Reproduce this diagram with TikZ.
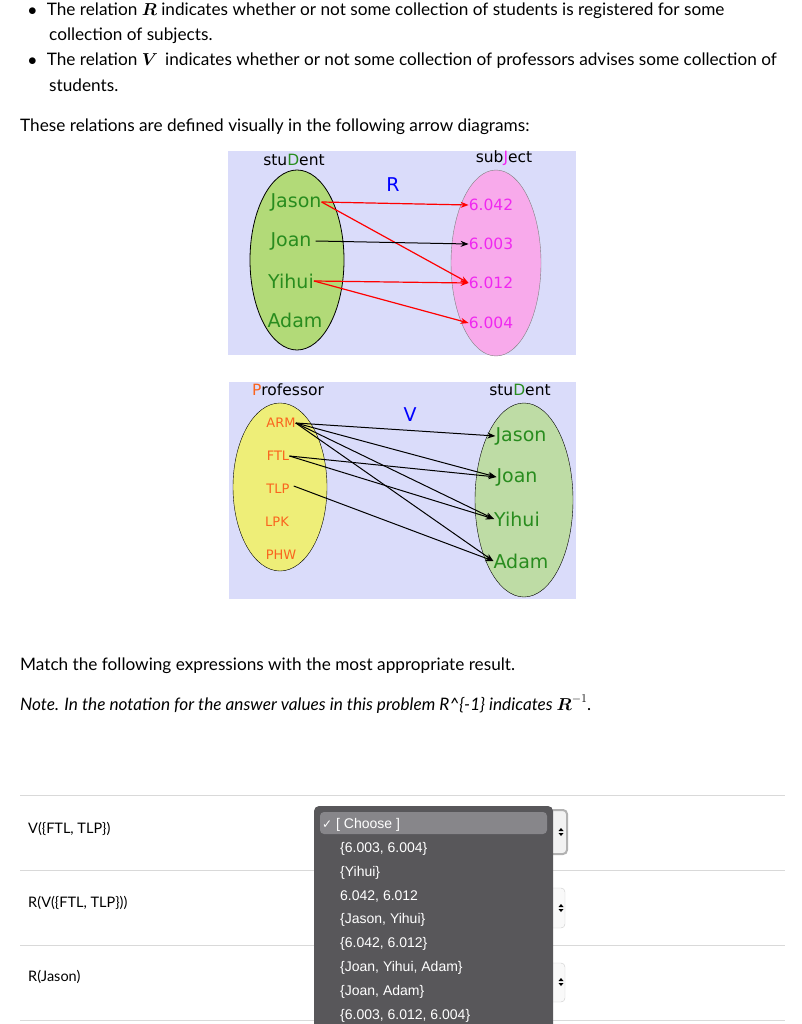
\documentclass[tikz,border=0pt]{standalone}
\usepackage{amsmath}
\usepackage{fontspec}
\setmainfont{Lato}
\newfontfamily\comicfont{DejaVu Sans}
\newfontfamily\helv{Liberation Sans}
\newfontfamily\sym{DejaVu Sans}
\usetikzlibrary{arrows.meta}
\definecolor{bgblue}{RGB}{218,220,250}
\definecolor{sgreen}{RGB}{178,218,120}
\definecolor{lgreen}{RGB}{190,220,165}
\definecolor{spink}{RGB}{248,170,235}
\definecolor{syellow}{RGB}{238,238,120}
\definecolor{tgreen}{RGB}{40,140,30}
\definecolor{tmag}{RGB}{240,40,240}
\definecolor{torange}{RGB}{250,100,30}
\definecolor{menu}{RGB}{88,87,90}
\definecolor{menuhi}{RGB}{135,134,138}
\tikzset{
  body/.style={anchor=base west,inner sep=0pt,font=\fontsize{17.2}{20}\selectfont},
  dlabel/.style={inner sep=0pt,font={\fontsize{19}{22}\selectfont\comicfont}},
  slabel/.style={inner sep=0pt,font={\fontsize{15.5}{18}\selectfont\comicfont}},
  plabel/.style={inner sep=0pt,text=torange,font={\fontsize{13}{15}\selectfont\comicfont}},
  ra/.style={draw=red,line width=1.2pt,-{Stealth[length=8pt]}},
  ka/.style={draw=black,line width=1pt,-{Stealth[length=8pt]}},
  item/.style={anchor=base west,inner sep=0pt,text=white,font=\helv\fontsize{14}{15}\selectfont},
  rowlab/.style={anchor=base west,inner sep=0pt,font=\fontsize{14.5}{16}\selectfont},
}
\begin{document}
\begin{tikzpicture}[x=1pt,y=-1pt]
\useasboundingbox (0,0) rectangle (801,1024);
% bullets
\node[body] (b1) at (28,16) {$\bullet$\hspace{10pt}The relation $\boldsymbol{R}$ indicates whether or not some collection of students is registered for some};
\node[body] (b1b) at (49,41) {collection of subjects.};
\node[body] (b2) at (28,66) {$\bullet$\hspace{10pt}The relation $\boldsymbol{V}$\, indicates whether or not some collection of professors advises some collection of};
\node[body] (b2b) at (49,92) {students.};
\node[body] (intro) at (20,132) {These relations are defined visually in the following arrow diagrams:};
% diagram R
\fill[bgblue] (228,151) rectangle (576,355);
\draw[fill=sgreen,thick] (297,260) ellipse [x radius=47,y radius=90];
\draw[fill=spink,draw=gray] (496,263) ellipse [x radius=45,y radius=93];
\node[slabel] (st1) at (294,160) {stu\textcolor{tgreen}{D}ent};
\node[slabel] (sj) at (504,158) {sub\textcolor{tmag}{J}ect};
\node[dlabel,text=blue] (R) at (393,185) {R};
\node[dlabel,text=tgreen] (jason) at (296,202) {Jason};
\node[dlabel,text=tgreen] (joan) at (291,241) {Joan};
\node[dlabel,text=tgreen] (yihui) at (291,281) {Yihui};
\node[dlabel,text=tgreen] (adam) at (295,320) {Adam};
\node[slabel,text=tmag] (s1) at (491,205) {6.042};
\node[slabel,text=tmag] (s2) at (491,244) {6.003};
\node[slabel,text=tmag] (s3) at (491,283) {6.012};
\node[slabel,text=tmag] (s4) at (491,323) {6.004};
\draw[ra] (jason.east) -- (s1.west);
\draw[ra] (jason.east) -- (s3.west);
\draw[ka] ([xshift=4pt]joan.east) -- (s2.west);
\draw[ra] (yihui.east) -- (s3.west);
\draw[ra] (yihui.east) -- (s4.west);
% diagram V
\fill[bgblue] (229,382) rectangle (576,599);
\draw[fill=syellow] (280,487) ellipse [x radius=47,y radius=84];
\draw[fill=lgreen] (524,500) ellipse [x radius=49,y radius=97];
\node[slabel] (prof) at (288,390) {\textcolor{torange}{P}rofessor};
\node[slabel] (st2) at (520,390) {stu\textcolor{tgreen}{D}ent};
\node[dlabel,text=blue] (V) at (410,415) {V};
\node[plabel] (arm) at (281,423) {ARM};
\node[plabel] (ftl) at (278,456) {FTL};
\node[plabel] (tlp) at (278,489) {TLP};
\node[plabel] (lpk) at (277,522) {LPK};
\node[plabel] (phw) at (281,555) {PHW};
\node[dlabel,text=tgreen] (jason2) at (521,436) {Jason};
\node[dlabel,text=tgreen] (joan2) at (517,477) {Joan};
\node[dlabel,text=tgreen] (yihui2) at (517,519) {Yihui};
\node[dlabel,text=tgreen] (adam2) at (521,561) {Adam};
\draw[ka] (arm.east) -- (jason2.west);
\draw[ka] (arm.east) -- (joan2.west);
\draw[ka] (arm.east) -- (yihui2.west);
\draw[ka] (arm.east) -- (adam2.west);
\draw[ka] (ftl.east) -- (joan2.west);
\draw[ka] (ftl.east) -- (yihui2.west);
\draw[ka] ([xshift=4pt,yshift=3pt]tlp.east) -- (adam2.west);
% text
\node[body] (match) at (20,670) {Match the following expressions with the most appropriate result.};
\node[body] (note) at (20,710) {\itshape Note. In the notation for the answer values in this problem R\^{}\{-1\} indicates $\boldsymbol{R}^{-1}$.};
\foreach \y in {795,870,945,1020} \draw[gray!30] (20,\y) -- (785,\y);
\node[rowlab] (q1) at (28,833) {V(\{FTL, TLP\})};
\node[rowlab] (q2) at (28,907) {R(V(\{FTL, TLP\}))};
\node[rowlab] (q3) at (28,981) {R(Jason)};
% select boxes
\draw[gray!60,line width=2pt,rounded corners=4pt,fill=gray!10] (540,810) rectangle (567,854);
\draw[gray!40,rounded corners=4pt,fill=gray!5] (540,888) rectangle (565,928);
\draw[gray!40,rounded corners=4pt,fill=gray!5] (540,963) rectangle (565,1002);
\foreach \y in {832,908,982} {\fill (561,\y-4) -- (563.5,\y-1) -- (558.5,\y-1) -- cycle; \fill (561,\y+4) -- (563.5,\y+1) -- (558.5,\y+1) -- cycle;}
% dropdown
\fill[menu,rounded corners=5pt] (314,806) rectangle (553,1030);
\fill[menuhi,rounded corners=4pt] (320,812) rectangle (547,834);
\node[item] (c0) at (322,828) {{\sym\fontsize{12}{13}\selectfont ✓} [ Choose ]};
\node[item] (c1) at (340,852) {\{6.003, 6.004\}};
\node[item] (c2) at (340,876) {\{Yihui\}};
\node[item] (c3) at (340,900) {6.042, 6.012};
\node[item] (c4) at (340,923) {\{Jason, Yihui\}};
\node[item] (c5) at (340,947) {\{6.042, 6.012\}};
\node[item] (c6) at (340,971) {\{Joan, Yihui, Adam\}};
\node[item] (c7) at (340,995) {\{Joan, Adam\}};
\node[item] (c8) at (340,1019) {\{6.003, 6.012, 6.004\}};
\end{tikzpicture}
\end{document}
